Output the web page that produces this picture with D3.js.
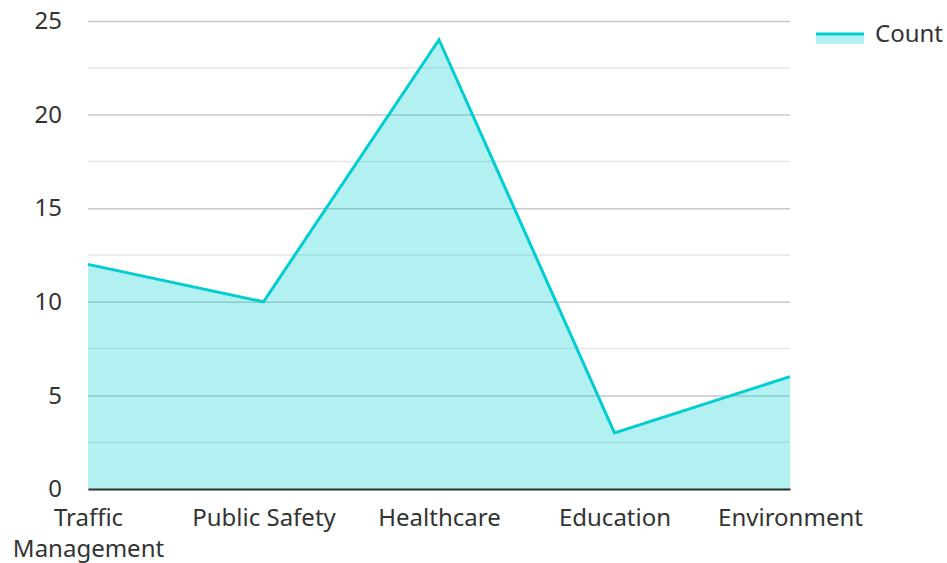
<!DOCTYPE html>
<html>
<head>
<meta charset="utf-8">
<script src="https://cdn.jsdelivr.net/npm/d3@7"></script>
<style>
  body { margin: 0; background: #fff; }
  text { font-family: "Noto Sans", "Open Sans", sans-serif; fill: #333; }
</style>
</head>
<body>
<div id="chart"></div>
<script>
var categories = ['Traffic Management', 'Public Safety', 'Healthcare', 'Education', 'Environment'];
var counts = [12, 10, 24, 3, 6];
var yTicks = [0, 5, 10, 15, 20, 25];
var yMinorTicks = [2.5, 7.5, 12.5, 17.5, 22.5];

var width = 947, height = 563;
var margin = {top: 21, right: 157, bottom: 74, left: 88};
var chartWidth = width - margin.left - margin.right;
var chartHeight = height - margin.top - margin.bottom;

var data = categories.map((c, i) => ({cat: c, value: counts[i]}));

var svg = d3.select('#chart').append('svg')
  .attr('width', width)
  .attr('height', height);

var g = svg.append('g')
  .attr('transform', `translate(${margin.left},${margin.top})`);

var xScale = d3.scalePoint()
  .domain(categories)
  .range([0, chartWidth]);

var yScale = d3.scaleLinear()
  .domain([0, 25])
  .range([chartHeight, 0]);

// minor grid
g.selectAll('.minor')
  .data(yMinorTicks)
  .enter()
  .append('line')
  .attr('x1', 0).attr('x2', chartWidth)
  .attr('y1', d => yScale(d)).attr('y2', d => yScale(d))
  .attr('stroke', '#e6e6e6')
  .attr('stroke-width', 1.5);

// major grid + labels
var yAxis = d3.axisLeft(yScale)
  .tickValues(yTicks)
  .tickSize(-chartWidth)
  .tickPadding(26);

g.append('g')
  .attr('class', 'y axis')
  .call(yAxis)
  .attr('font-size', 24)
  .call(s => s.select('.domain').remove())
  .call(s => s.selectAll('.tick line').attr('stroke', '#c8c8c8').attr('stroke-width', 1.5))
  .call(s => s.selectAll('.tick text').attr('fill', '#333'));

// area + line
var area = d3.area()
  .x(d => xScale(d.cat))
  .y0(chartHeight)
  .y1(d => yScale(d.value));

var line = d3.line()
  .x(d => xScale(d.cat))
  .y(d => yScale(d.value));

g.append('path')
  .datum(data)
  .attr('d', area)
  .attr('fill', 'rgba(0,206,209,0.3)');

g.append('path')
  .datum(data)
  .attr('d', line)
  .attr('fill', 'none')
  .attr('stroke', '#00CED1')
  .attr('stroke-width', 3)
  .attr('stroke-linejoin', 'miter');

// x axis
var xAxis = d3.axisBottom(xScale).tickSize(0).tickPadding(0);
var xg = g.append('g')
  .attr('class', 'x axis')
  .attr('transform', `translate(0,${chartHeight})`)
  .call(xAxis)
  .attr('font-size', 24);
xg.select('.domain').attr('stroke', '#333').attr('stroke-width', 2);
xg.selectAll('.tick text')
  .attr('fill', '#333')
  .attr('y', null)
  .attr('dy', null)
  .text(null)
  .each(function(d) {
    var words = d === 'Traffic Management' ? ['Traffic', 'Management'] : [d];
    var t = d3.select(this);
    words.forEach((w, i) => {
      t.append('tspan')
        .attr('x', 0)
        .attr('y', 37 + i * 31)
        .text(w);
    });
  });

// legend
var legend = svg.append('g')
  .attr('transform', 'translate(816,33)');
legend.append('rect')
  .attr('x', 0).attr('y', 0)
  .attr('width', 48).attr('height', 11)
  .attr('fill', 'rgba(0,206,209,0.3)');
legend.append('line')
  .attr('x1', 0).attr('x2', 48)
  .attr('y1', 1).attr('y2', 1)
  .attr('stroke', '#00CED1')
  .attr('stroke-width', 3);
legend.append('text')
  .attr('x', 59).attr('y', 9)
  .attr('font-size', 24)
  .text('Count');
</script>
</body>
</html>
